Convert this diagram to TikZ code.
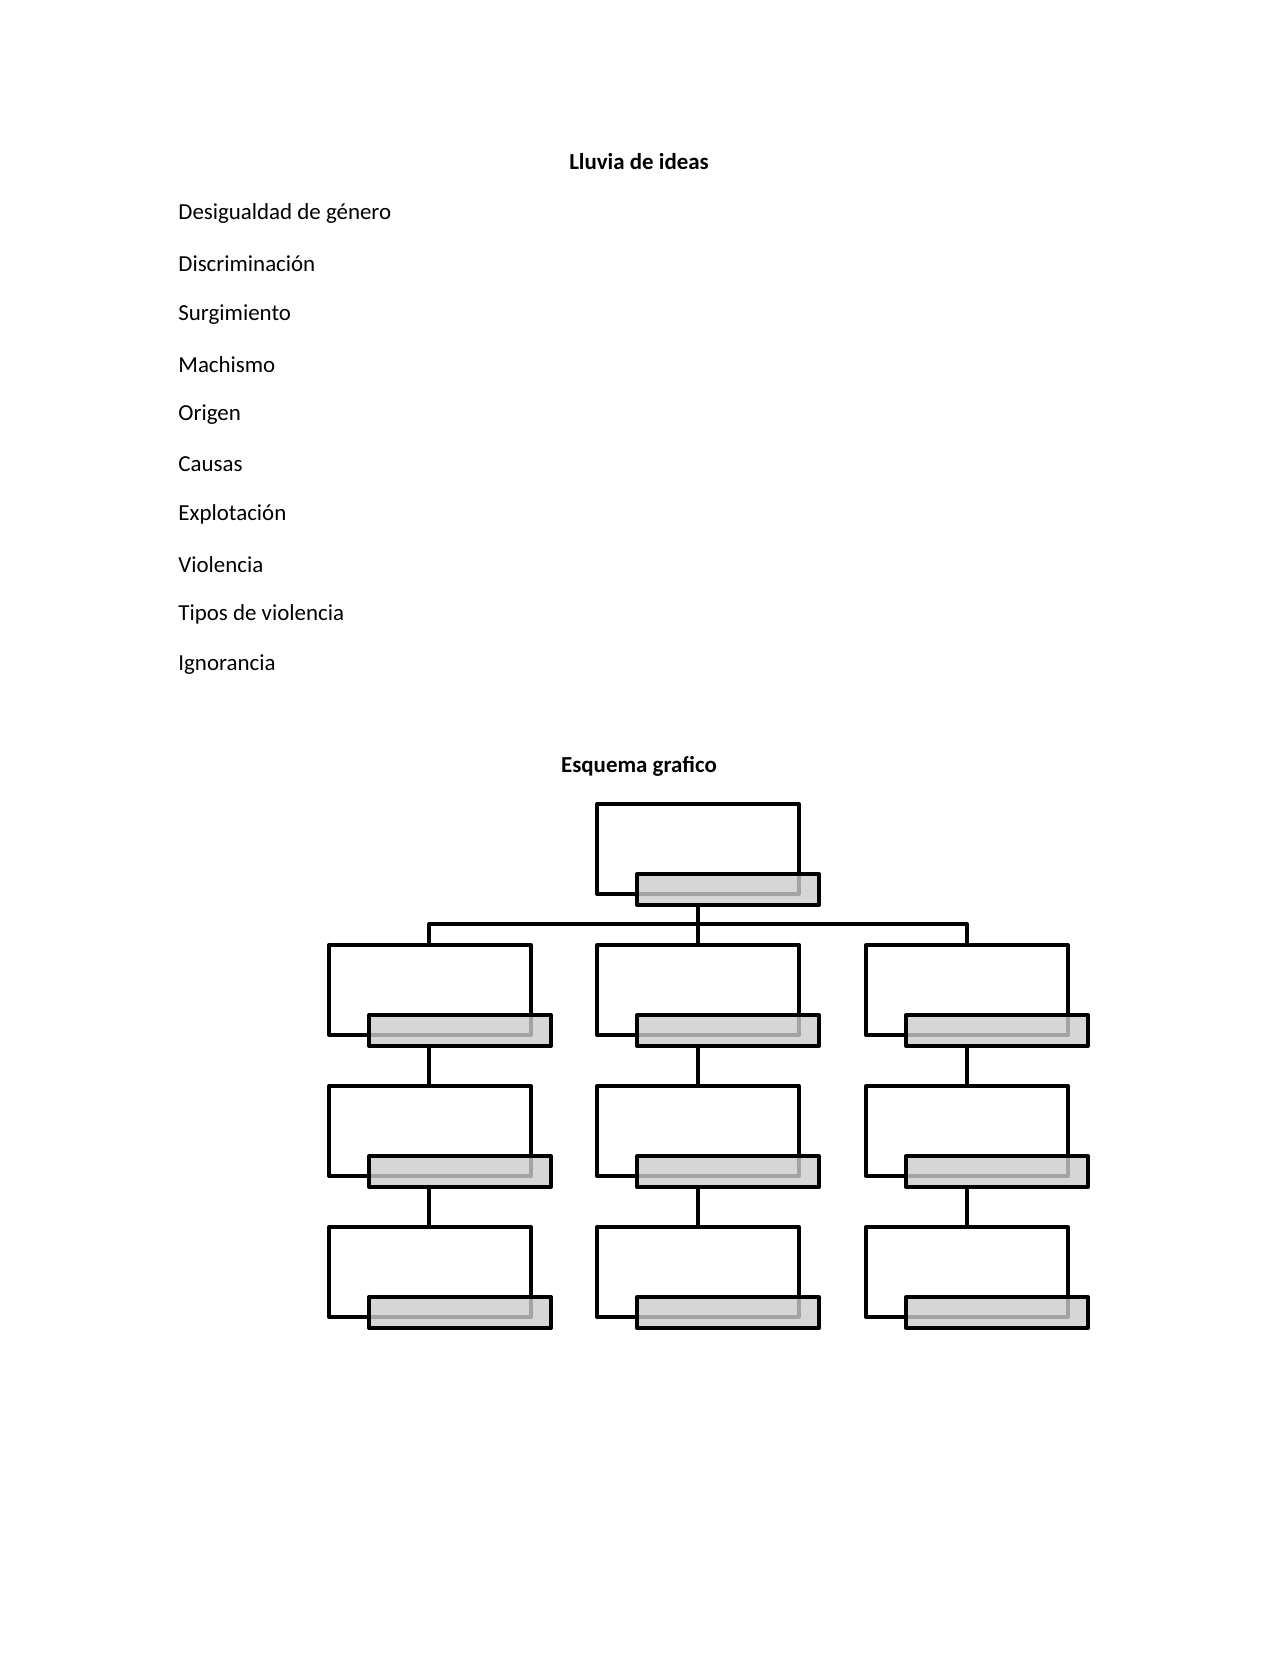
\documentclass[tikz,border=0pt]{standalone}
\usepackage{fontspec}
\setmainfont{Carlito}
\begin{document}
\begin{tikzpicture}[x=0.48pt,y=-0.48pt,
  ln/.style={line width=1.9pt,line join=round},
  tbox/.style={ln,draw=black,fill=white},
  gbox/.style={ln,draw=black,fill=black!20,fill opacity=0.8},
  item/.style={anchor=west,inner sep=0pt,font=\fontsize{11pt}{13pt}\selectfont}]
\useasboundingbox (0,0) rectangle (1280,1656);
\node[font=\bfseries\fontsize{11pt}{13pt}\selectfont] (t1) at (639,162) {Lluvia de ideas};
\foreach \t [count=\i from 0] in {Desigualdad de género,Discriminación,Surgimiento,Machismo,Origen,Causas,Explotación,Violencia,Tipos de violencia,Ignorancia}
  \node[item] (it\i) at (178,{214+50.1*\i}) {\t};
\node[font=\bfseries\fontsize{11pt}{13pt}\selectfont] (t2) at (639,766) {Esquema grafico};
% connectors
\coordinate (hb) at (698,924);
\draw[ln] (429,945) -- (429,924) -- (967,924) -- (967,945);
\draw[ln] (698,904) -- (698,945);
\foreach \c in {429,698,967}{
  \draw[ln] (\c,1045) -- (\c,1086);
  \draw[ln] (\c,1186) -- (\c,1227);
}
% boxes
\newcommand{\mybox}[3]{%
  \draw[tbox] (#1,#2) rectangle ++(202,90);
  \draw[gbox] ({#1+40},{#2+70}) rectangle ++(182,31);
  \node[inner sep=0pt] (#3) at ({#1+101},{#2+45}) {};}
\mybox{597}{804}{root}
\foreach \x/\n in {329/a,597/b,866/c}
  \foreach \y/\m in {945/1,1086/2,1227/3}
    {\mybox{\x}{\y}{\n\m}}
\end{tikzpicture}
\end{document}
